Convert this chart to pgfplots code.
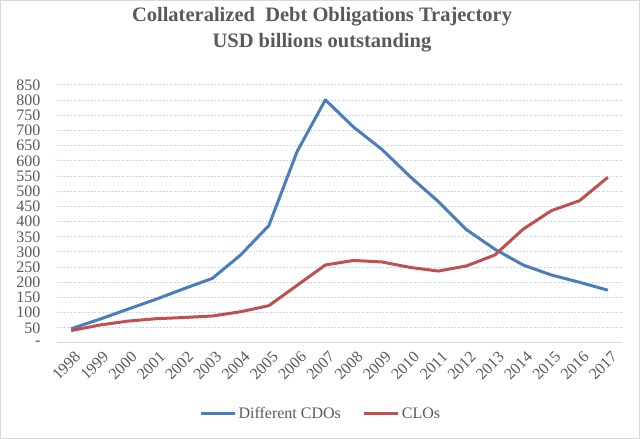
\documentclass[border=0pt]{standalone}
\usepackage{fontspec}
\setmainfont{Liberation Serif}
\usepackage{pgfplots}
\pgfplotsset{compat=1.18}
\definecolor{cdoblue}{RGB}{74,126,187}
\definecolor{clored}{RGB}{192,80,77}
\definecolor{txtgray}{RGB}{89,89,89}
\definecolor{gridblue}{RGB}{180,199,231}
\definecolor{framegray}{RGB}{217,217,217}
\begin{document}
\begin{tikzpicture}[x=1pt,y=1pt]
\useasboundingbox (0,0) rectangle (640,439);
\draw[framegray, line width=1pt] (0.5,0.5) rectangle (639.5,438.5);
\node[font=\fontsize{20.5}{26}\selectfont\bfseries, text=txtgray, align=center] at (322,409)
  {Collateralized\ \ Debt Obligations Trajectory\\USD billions outstanding};
\begin{axis}[
    at={(57pt,96pt)}, anchor=south west,
    scale only axis, width=565pt, height=258pt,
    xmin=-0.5, xmax=19.5, ymin=0, ymax=850,
    axis x line*=bottom, axis y line*=left,
    x axis line style={draw=framegray, line width=1pt, -},
    y axis line style={draw=none},
    major tick length=0,
    xtick={0,...,19},
    xticklabels={1998,1999,2000,2001,2002,2003,2004,2005,2006,2007,2008,2009,2010,2011,2012,2013,2014,2015,2016,2017},
    ytick={0,50,...,850},
    yticklabels={{-\hspace{15pt}},50,100,150,200,250,300,350,400,450,500,550,600,650,700,750,800,850},
    /pgf/number format/assume math mode=true,
    ticklabel style={font=\fontsize{16}{18}\selectfont, text=txtgray},
    xticklabel style={rotate=45, anchor=north east, inner sep=1pt, xshift=-2.4pt, yshift=-6.1pt},
    yticklabel style={anchor=east, xshift=-13pt},
    ymajorgrids, grid style={dotted, gridblue, line width=1pt},
    legend style={at={(0.467,-0.275)}, anchor=center, draw=none, fill=none,
        legend columns=-1, font=\fontsize{16}{18}\selectfont, text=txtgray,
        /tikz/every even column/.append style={column sep=20pt}},
    legend image code/.code={\draw[#1, line width=3pt] (0pt,0pt) -- (34pt,0pt);},
]
\addplot[cdoblue, line width=3pt, line join=round] coordinates {
(0,47) (1,78) (2,111) (3,144) (4,179) (5,213) (6,290) (7,387) (8,631) (9,801)
(10,711) (11,638) (12,548) (13,466) (14,373) (15,309) (16,257) (17,224) (18,200) (19,174)};
\addplot[clored, line width=3pt, line join=round] coordinates {
(0,41) (1,59) (2,72) (3,80) (4,84) (5,89) (6,103) (7,123) (8,190) (9,257)
(10,272) (11,267) (12,249) (13,237) (14,254) (15,290) (16,375) (17,436) (18,469) (19,546)};
\legend{Different CDOs, CLOs}
\end{axis}
\end{tikzpicture}
\end{document}
